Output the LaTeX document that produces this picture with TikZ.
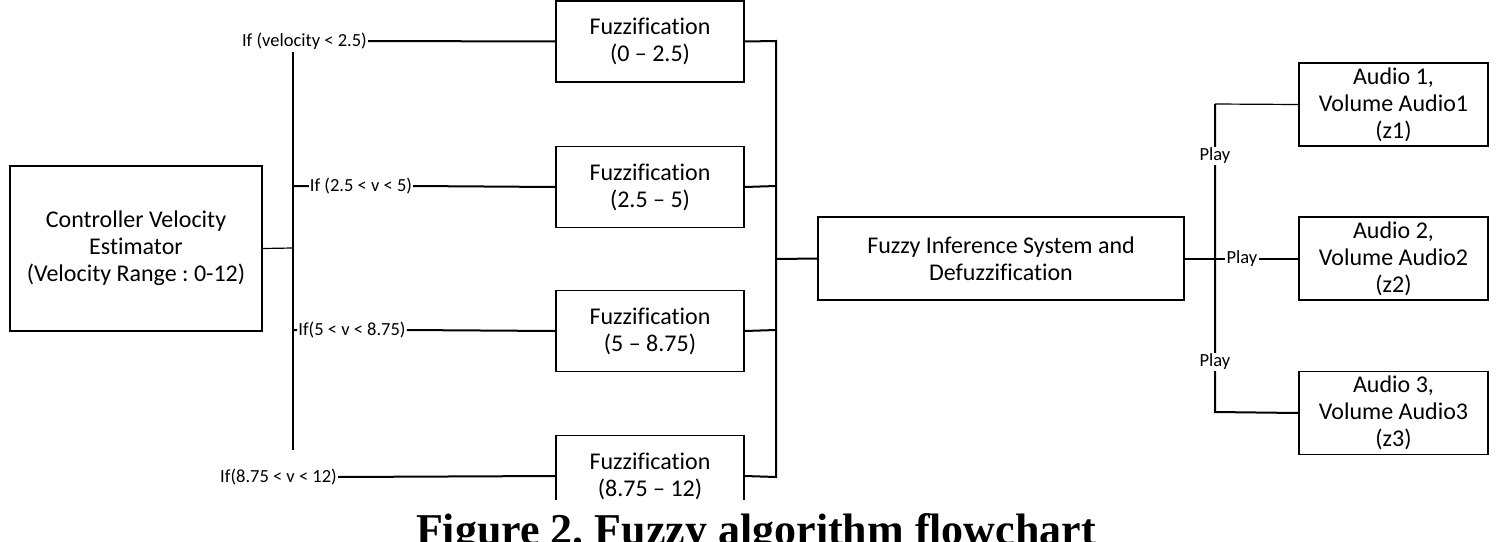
\documentclass[tikz,border=0pt]{standalone}
\usepackage{fontspec}
\setmainfont{Carlito}[Ligatures=NoCommon]
\newfontfamily\capfont{Liberation Serif}
\frenchspacing
\begin{document}
\begin{tikzpicture}[x=1pt,y=-1pt,
  box/.style={draw,line width=1.3pt,fill=white,align=center,font=\fontsize{24}{27}\selectfont,inner sep=0pt},
  lbl/.style={fill=white,inner sep=1pt,font=\fontsize{18.5}{20}\selectfont},
  ln/.style={line width=2pt}]
\useasboundingbox[fill=white] (0,0) rectangle (1512,541);
\node[box,minimum width=252,minimum height=165] (ctrl) at (136,248.5) {Controller Velocity\\Estimator\\(Velocity Range : 0-12)};
\node[box,minimum width=188,minimum height=81] (f1) at (650,41.5) {Fuzzification\\(0 -- 2.5)};
\node[box,minimum width=188,minimum height=81] (f2) at (650,187) {Fuzzification\\(2.5 -- 5)};
\node[box,minimum width=188,minimum height=81] (f3) at (650,331) {Fuzzification\\(5 -- 8.75)};
\node[box,minimum width=188,minimum height=81] (f4) at (650,476) {Fuzzification\\(8.75 -- 12)};
\node[box,minimum width=366,minimum height=83] (fis) at (1001,258.5) {Fuzzy Inference System and\\Defuzzification};
\node[box,minimum width=189,minimum height=83] (a1) at (1393.5,104.5) {Audio 1,\\Volume Audio1\\(z1)};
\node[box,minimum width=189,minimum height=83] (a2) at (1393.5,258.5) {Audio 2,\\Volume Audio2\\(z2)};
\node[box,minimum width=189,minimum height=83] (a3) at (1393.5,413) {Audio 3,\\Volume Audio3\\(z3)};
% left bus
\coordinate (bl) at (293,248);
\coordinate (bt) at (293,52);
\coordinate (bb) at (293,450);
\draw[line width=1.2pt] (ctrl.east) -- (bl);
\draw[ln] (bt) -- (bb);
\node[lbl,anchor=east] (l1) at (368,41) {If (velocity < 2.5)};
\node[lbl] (l2) at (361,186) {If (2.5 < v < 5)};
\node[lbl] (l3) at (352,330) {If(5 < v < 8.75)};
\node[lbl,anchor=east] (l4) at (338,477) {If(8.75 < v < 12)};
\draw[ln] (l1.east) -- (f1.west);
\draw[ln] (293,186) -- (l2.west) (l2.east) -- (f2.west);
\draw[ln] (293,330) -- (l3.west) (l3.east) -- (f3.west);
\draw[ln] (l4.east) -- (f4.west);
% right bus
\coordinate (rt) at (776,41);
\coordinate (rb) at (776,477);
\draw[ln] (f1.east) -- (rt) -- (rb) -- (f4.east);
\draw[ln] (f2.east) -- (776,186) (f3.east) -- (776,330);
\draw[ln] (776,259) -- (fis.west);
% output bus
\coordinate (ot) at (1215,104);
\coordinate (ob) at (1215,412);
\draw[line width=1.2pt] (a1.west) -- (ot);
\draw[ln] (ot) -- (ob) -- (a3.west);
\draw[ln] (fis.east) -- (1215,258.5);
\node[lbl] (p2) at (1242,258.5) {Play};
\draw[ln] (1215,258.5) -- (p2.west) (p2.east) -- (a2.west);
\node[lbl] (p1) at (1215,156) {Play};
\node[lbl] (p3) at (1215,362) {Play};
% caption
\node[fill=white,anchor=north,inner sep=0pt,text height=44pt,text depth=12pt,font=\capfont\bfseries\fontsize{44}{48}\selectfont] (cap) at (756,500) {Figure 2. Fuzzy algorithm flowchart};
\end{tikzpicture}
\end{document}
